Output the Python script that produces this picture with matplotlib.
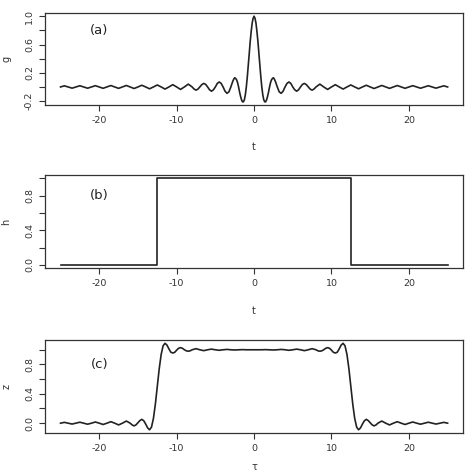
import numpy as np
import matplotlib
matplotlib.use("Agg")
import matplotlib.pyplot as plt

# readings for t >= 0 (all three curves are symmetric about t = 0)
# finer steps where the curve bends a lot
t_g = np.r_[np.arange(0, 3, 0.125), np.arange(3, 8, 0.25), np.arange(8, 25.01, 0.5)]
g_half = [1.00, 0.97, 0.90, 0.78, 0.64, 0.47, 0.30, 0.14, 0.0,
          -0.11, -0.18, -0.21, -0.21, -0.18, -0.13, -0.07, 0.0,
          0.06, 0.10, 0.12, 0.13, 0.11, 0.08, 0.04, 0.0,
          -0.07, -0.09, -0.06, 0, 0.05, 0.07, 0.05, 0, -0.04, -0.06, -0.04, 0,
          0.036, 0.05, 0.033, 0, -0.031, -0.045, -0.029, 0,
          0.04, 0, -0.035, 0, 0.032, 0, -0.03, 0, 0.028, 0, -0.026, 0,
          0.024, 0, -0.022, 0, 0.021, 0, -0.02, 0, 0.02, 0, -0.019, 0,
          0.018, 0, -0.018, 0, 0.017, 0, -0.017, 0, 0.016, 0]

t_h = [-25, -12.5, -12.5, 12.5, 12.5, 25]
h = [0, 0, 1, 1, 0, 0]

t_z = np.r_[np.arange(0, 8, 0.5), np.arange(8, 16, 0.25), np.arange(16, 25.01, 0.5)]
z_half = [1.0, 1.0, 1.0, 1.002, 1.0, 0.997, 1.0, 1.005, 1.0, 0.993, 1.0, 1.009,
          1.0, 0.988, 1.0, 1.015, 1.0,
          0.986, 0.98, 0.986, 1.0, 1.02, 1.029, 1.02, 0.995,
          0.965, 0.956, 0.967, 1.012, 1.064, 1.088, 1.054, 0.936,
          0.742, 0.5, 0.258, 0.064, -0.054, -0.09, -0.064, -0.012,
          0.033, 0.052, 0.035, 0.005, -0.023, -0.037, -0.024, 0.0,
          0.029, 0, -0.024, 0, 0.02, 0, -0.018, 0, 0.016, 0, -0.014, 0,
          0.013, 0, -0.012, 0, 0.011, 0]

x_ticks = [-20, -10, 0, 10, 20]


def mirror(t, v):
    t = np.asarray(t, float)
    v = np.asarray(v, float)
    return np.concatenate([-t[:0:-1], t]), np.concatenate([v[:0:-1], v])


def r_limits(v):
    lo, hi = min(v), max(v)
    pad = 0.04 * (hi - lo)
    return lo - pad, hi + pad


def panel(ax, t, v, yticks, ylabels, ylab, xlab, tag, xlab_y=-0.40):
    ax.plot(t, v, color="#222222", lw=1.2)
    ax.set_xlim(-27, 27)
    ax.set_ylim(*r_limits(v))
    ax.set_xticks(x_ticks)
    ax.set_xticklabels([str(x) for x in x_ticks])
    ax.set_yticks(yticks)
    ax.set_yticklabels(ylabels, rotation=90, va="center")
    ax.tick_params(direction="out", length=4, width=0.8, colors="#333333",
                   labelsize=6.8, pad=4)
    for s in ax.spines.values():
        s.set_color("#333333")
        s.set_linewidth(0.9)
    ax.set_xlabel(xlab, fontsize=7, color="#333333")
    ax.set_ylabel(ylab, fontsize=7, color="#333333")
    ax.xaxis.set_label_coords(0.5, xlab_y)
    ax.yaxis.set_label_coords(-0.08, 0.5)
    ax.text(-20, 0.8, tag, fontsize=9.5, ha="center", va="center", color="#222222")


fig = plt.figure(figsize=(4.74, 4.74), dpi=100)
ax1 = fig.add_axes([0.095, 0.778, 0.882, 0.195])
ax2 = fig.add_axes([0.095, 0.434, 0.882, 0.197])
ax3 = fig.add_axes([0.095, 0.086, 0.882, 0.197])

tg, g = mirror(t_g, g_half)
panel(ax1, tg, g, [-0.2, 0, 0.2, 0.4, 0.6, 0.8, 1.0],
      ["-0.2", "", "0.2", "", "0.6", "", "1.0"], "g", "t", "(a)")

panel(ax2, t_h, h, [0, 0.2, 0.4, 0.6, 0.8, 1.0],
      ["0.0", "", "0.4", "", "0.8", ""], "h", "t", "(b)")

tz, z = mirror(t_z, z_half)
panel(ax3, tz, z, [0, 0.2, 0.4, 0.6, 0.8, 1.0],
      ["0.0", "", "0.4", "", "0.8", ""], "z", "τ", "(c)", xlab_y=-0.31)

fig.savefig("out.png", dpi=100)
